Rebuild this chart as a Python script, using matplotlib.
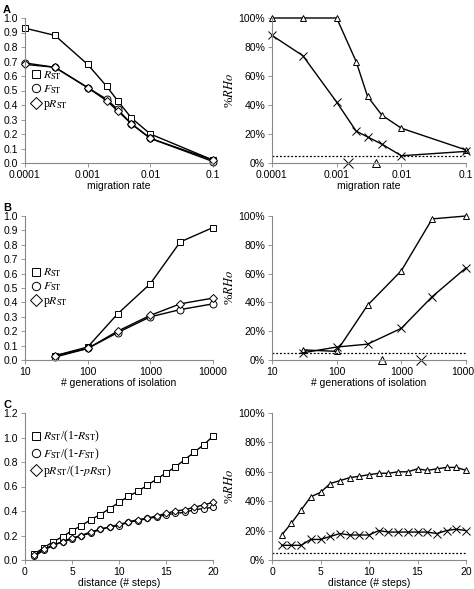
import numpy as np
import matplotlib
matplotlib.use("Agg")
import matplotlib.pyplot as plt
from matplotlib.ticker import FuncFormatter

plt.rcParams['font.family'] = ['Liberation Sans', 'DejaVu Sans']
plt.rcParams['font.size'] = 7.5
plt.rcParams['mathtext.fontset'] = 'stix'

# Panel A
mig = [1e-4, 3e-4, 1e-3, 2e-3, 3e-3, 5e-3, 1e-2, 1e-1]
a_rst = [0.93, 0.88, 0.68, 0.53, 0.43, 0.31, 0.20, 0.02]
a_fst = [0.69, 0.66, 0.52, 0.44, 0.37, 0.27, 0.17, 0.01]
a_prst = [0.68, 0.66, 0.52, 0.43, 0.36, 0.27, 0.17, 0.02]
a_tri = [100, 100, 100, 70, 46, 33, 24, 9]
a_x = [88, 74, 42, 22, 18, 13, 5, 8]
a_iso_x, a_iso_tri = 0.0015, 0.004

# Panel B
gens = [30, 100, 300, 1000, 3000, 10000]
b_rst = [0.03, 0.09, 0.32, 0.53, 0.82, 0.92]
b_fst = [0.02, 0.08, 0.19, 0.30, 0.35, 0.39]
b_prst = [0.03, 0.08, 0.20, 0.31, 0.39, 0.43]
b_tri = [7, 6, 38, 62, 98, 100]
b_x = [5, 9, 11, 22, 44, 64]
b_iso_x, b_iso_tri = 2000, 500

# Panel C
dist = list(range(1, 21))
c_rst = [0.05, 0.10, 0.15, 0.19, 0.24, 0.28, 0.33, 0.37, 0.42, 0.47,
         0.52, 0.56, 0.61, 0.66, 0.71, 0.76, 0.82, 0.88, 0.94, 1.01]
c_fst = [0.03, 0.08, 0.12, 0.15, 0.17, 0.20, 0.22, 0.25, 0.27, 0.28,
         0.31, 0.32, 0.34, 0.35, 0.37, 0.38, 0.39, 0.41, 0.42, 0.43]
c_prst = [0.04, 0.09, 0.12, 0.15, 0.18, 0.20, 0.23, 0.25, 0.27, 0.29,
          0.31, 0.33, 0.34, 0.36, 0.38, 0.40, 0.41, 0.43, 0.45, 0.47]
c_tri = [17, 25, 34, 43, 46, 52, 54, 56, 57, 58, 59, 59, 60, 60, 62, 61, 62, 63, 63, 61]
c_x = [10, 10, 10, 14, 14, 16, 18, 17, 17, 17, 20, 19, 19, 19, 19, 19, 18, 20, 21, 20]

serif = ['Liberation Serif', 'DejaVu Serif']
mk = dict(color='black', lw=1.0, mfc='white', mec='black', ms=5, mew=0.7, clip_on=False)

fig = plt.figure(figsize=(4.74, 5.89), dpi=100)
W, H = 474, 589


def ax_at(x0, y0, x1, y1):
    return fig.add_axes([x0 / W, 1 - y1 / H, (x1 - x0) / W, (y1 - y0) / H])


def style(ax):
    for s in ['top', 'right']:
        ax.spines[s].set_visible(False)
    for s in ['left', 'bottom']:
        ax.spines[s].set_color('#888888')
        ax.spines[s].set_linewidth(0.8)
    ax.tick_params(axis='both', length=3, width=0.6, color='#888888', pad=2)


rows = [(18, 163), (216, 360), (413, 560)]
labels = ['A', 'B', 'C']
legs = [[r'$R_{\rm ST}$', r'$F_{\rm ST}$', r'p$R_{\rm ST}$'],
        [r'$R_{\rm ST}$', r'$F_{\rm ST}$', r'p$R_{\rm ST}$'],
        [r'$R_{\rm ST}$/(1-$R_{\rm ST}$)', r'$F_{\rm ST}$/(1-$F_{\rm ST}$)',
         r'p$R_{\rm ST}$/(1-$pR_{\rm ST}$)']]
xs = [mig, gens, dist]
lefts = [(a_rst, a_fst, a_prst), (b_rst, b_fst, b_prst), (c_rst, c_fst, c_prst)]
rights = [(a_tri, a_x), (b_tri, b_x), (c_tri, c_x)]
isolated = [(a_iso_x, a_iso_tri), (b_iso_x, b_iso_tri), None]
xlabels = ['migration rate', '# generations of isolation', 'distance (# steps)']

for i, (y0, y1) in enumerate(rows):
    x = xs[i]
    axl = ax_at(25, y0, 213, y1)
    axr = ax_at(272, y0, 466, y1)
    for ax in (axl, axr):
        style(ax)
    r, f, p = lefts[i]
    ms = 5 if i < 2 else 4.3
    axl.plot(x, r, marker='s', label=legs[i][0], **{**mk, 'ms': ms})
    axl.plot(x, f, marker='o', label=legs[i][1], **{**mk, 'ms': ms})
    axl.plot(x, p, marker='D', label=legs[i][2], **{**mk, 'ms': ms - 0.8})
    leg = axl.legend(loc='center left', bbox_to_anchor=(0.0, 0.5 if i < 2 else 0.72),
                     frameon=False, handlelength=0.6, handletextpad=0.3,
                     labelspacing=0.15, borderaxespad=0.2,
                     prop={'family': serif, 'size': 8.5})
    for h in leg.get_lines():
        h.set_linestyle('none')
        h.set_markersize(6)
    t, xx = rights[i]
    axr.plot(x, t, marker='^', **{**mk, 'ms': ms})
    axr.plot(x, xx, marker='x', **{**mk, 'ms': ms + 1})
    axr.axhline(5, color='black', lw=0.9, ls=(0, (1.5, 1.5)))
    if isolated[i] is not None:
        ix, it = isolated[i]
        axr.plot([ix], [0], marker='x', **{**mk, 'ms': 7})
        axr.plot([it], [0], marker='^', **{**mk, 'ms': 6})
    if i < 2:
        if i == 0:
            ticks = [1e-4, 1e-3, 1e-2, 1e-1]
            lab = ['0.0001', '0.001', '0.01', '0.1']
            lim = (1e-4, 1e-1)
        else:
            ticks = [10, 100, 1000, 10000]
            lab = ['10', '100', '1000', '10000']
            lim = (10, 10000)
        for ax in (axl, axr):
            ax.set_xscale('log')
            ax.minorticks_off()
            ax.set_xlim(*lim)
            ax.set_xticks(ticks)
            ax.set_xticklabels(lab)
        axl.set_ylim(0, 1.0)
        axl.set_yticks(np.arange(0, 1.01, 0.1))
    else:
        for ax in (axl, axr):
            ax.set_xlim(0, 20)
            ax.set_xticks([0, 5, 10, 15, 20])
        axl.set_ylim(0, 1.2)
        axl.set_yticks(np.arange(0, 1.21, 0.2))
    axl.yaxis.set_major_formatter(FuncFormatter(lambda v, _: f'{v:.1f}'))
    axr.set_ylim(0, 100)
    axr.set_yticks(range(0, 101, 20))
    axr.yaxis.set_major_formatter(FuncFormatter(lambda v, _: f'{v:.0f}%'))
    for ax in (axl, axr):
        ax.set_xlabel(xlabels[i], labelpad=1)
    axr.set_ylabel(r'%$RHo$', family=serif, fontsize=9, labelpad=2)
    fig.text(3 / W, 1 - (y0 - 8) / H, labels[i], fontsize=8, fontweight='bold', va='center')

fig.savefig('out.png', dpi=100)
